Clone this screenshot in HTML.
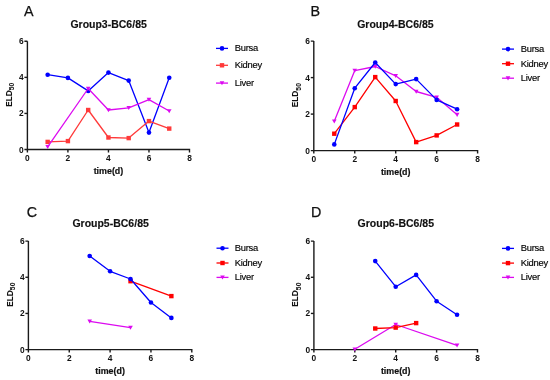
<!DOCTYPE html>
<html><head><meta charset="utf-8"><style>
html,body{margin:0;padding:0;background:#fff;width:550px;height:380px;overflow:hidden}
svg{display:block;will-change:transform}
text{font-family:"Liberation Sans",sans-serif;fill:#111}
.pl{font-size:14.3px;stroke:#111;stroke-width:0.25px}
.ti{font-size:10.5px;font-weight:bold;stroke:#111;stroke-width:0.15px}
.tk{font-size:8.4px;font-weight:bold}
.al{font-size:8.9px;font-weight:bold;stroke:#111;stroke-width:0.2px}
.yl{font-size:8.3px;font-weight:bold;stroke:#111;stroke-width:0.05px}
.sub{font-size:6.8px}
.lg{font-size:9.4px;fill:#000;stroke:#000;stroke-width:0.15px;letter-spacing:-0.25px}
</style></head><body>
<svg width="550" height="380" viewBox="0 0 550 380">
<rect width="550" height="380" fill="#fff"/>
<text x="24" y="15.5" class="pl">A</text>
<text x="108.6" y="27.9" class="ti" text-anchor="middle">Group3-BC6/85</text>
<path d="M27.4 41.3H24.4M27.4 41.3V149.5H189.5V152.5" fill="none" stroke="#1a1a1a" stroke-width="1.4"/>
<path d="M24.4 113.43H27.4" stroke="#1a1a1a" stroke-width="1.4"/>
<path d="M24.4 77.37H27.4" stroke="#1a1a1a" stroke-width="1.4"/>
<path d="M24.4 149.5H27.4M27.4 149.5V152.5" stroke="#1a1a1a" stroke-width="1.4"/>
<path d="M67.92 149.5V152.5" stroke="#1a1a1a" stroke-width="1.4"/>
<path d="M108.45 149.5V152.5" stroke="#1a1a1a" stroke-width="1.4"/>
<path d="M148.97 149.5V152.5" stroke="#1a1a1a" stroke-width="1.4"/>
<text x="23.60" y="152.50" class="tk" text-anchor="end">0</text>
<text x="23.60" y="116.43" class="tk" text-anchor="end">2</text>
<text x="23.60" y="80.37" class="tk" text-anchor="end">4</text>
<text x="23.60" y="44.30" class="tk" text-anchor="end">6</text>
<text x="27.40" y="161.10" class="tk" text-anchor="middle">0</text>
<text x="67.92" y="161.10" class="tk" text-anchor="middle">2</text>
<text x="108.45" y="161.10" class="tk" text-anchor="middle">4</text>
<text x="148.97" y="161.10" class="tk" text-anchor="middle">6</text>
<text x="189.50" y="161.10" class="tk" text-anchor="middle">8</text>
<text x="108.45" y="174.20" class="al" text-anchor="middle">time(d)</text>
<g transform="translate(11.90 106.80) rotate(-90)"><text x="0" y="0" class="yl">ELD<tspan class="sub" dy="2.2">50</tspan></text></g>
<path d="M47.66 74.70 L67.92 77.90 L88.19 90.90 L108.45 72.60 L128.71 80.60 L148.97 132.60 L169.24 77.70" fill="none" stroke="#0000FF" stroke-width="1.3" stroke-linejoin="round"/>
<circle cx="47.66" cy="74.70" r="2.3" fill="#0000FF"/>
<circle cx="67.92" cy="77.90" r="2.3" fill="#0000FF"/>
<circle cx="88.19" cy="90.90" r="2.3" fill="#0000FF"/>
<circle cx="108.45" cy="72.60" r="2.3" fill="#0000FF"/>
<circle cx="128.71" cy="80.60" r="2.3" fill="#0000FF"/>
<circle cx="148.97" cy="132.60" r="2.3" fill="#0000FF"/>
<circle cx="169.24" cy="77.70" r="2.3" fill="#0000FF"/>
<path d="M47.66 141.90 L67.92 141.10 L88.19 110.00 L108.45 137.50 L128.71 138.10 L148.97 121.10 L169.24 128.60" fill="none" stroke="#FF3a3a" stroke-width="1.3" stroke-linejoin="round"/>
<rect x="45.46" y="139.70" width="4.4" height="4.4" fill="#FF3a3a"/>
<rect x="65.72" y="138.90" width="4.4" height="4.4" fill="#FF3a3a"/>
<rect x="85.99" y="107.80" width="4.4" height="4.4" fill="#FF3a3a"/>
<rect x="106.25" y="135.30" width="4.4" height="4.4" fill="#FF3a3a"/>
<rect x="126.51" y="135.90" width="4.4" height="4.4" fill="#FF3a3a"/>
<rect x="146.78" y="118.90" width="4.4" height="4.4" fill="#FF3a3a"/>
<rect x="167.04" y="126.40" width="4.4" height="4.4" fill="#FF3a3a"/>
<path d="M47.66 146.90 L88.19 88.50 L108.45 110.00 L128.71 107.90 L148.97 99.60 L169.24 111.00" fill="none" stroke="#DC0AF0" stroke-width="1.3" stroke-linejoin="round"/>
<path d="M45.36 145.06H49.96L47.66 149.09Z" fill="#DC0AF0"/>
<path d="M85.89 86.66H90.49L88.19 90.69Z" fill="#DC0AF0"/>
<path d="M106.15 108.16H110.75L108.45 112.19Z" fill="#DC0AF0"/>
<path d="M126.41 106.06H131.01L128.71 110.09Z" fill="#DC0AF0"/>
<path d="M146.67 97.76H151.28L148.97 101.78Z" fill="#DC0AF0"/>
<path d="M166.94 109.16H171.54L169.24 113.19Z" fill="#DC0AF0"/>
<path d="M216 48.40H228" stroke="#0000FF" stroke-width="1.3"/>
<circle cx="222.00" cy="48.40" r="2.3" fill="#0000FF"/>
<text x="234.70" y="51.40" class="lg">Bursa</text>
<path d="M216 65.30H228" stroke="#FF3a3a" stroke-width="1.3"/>
<rect x="219.80" y="63.10" width="4.4" height="4.4" fill="#FF3a3a"/>
<text x="234.70" y="68.30" class="lg">Kidney</text>
<path d="M216 83.10H228" stroke="#DC0AF0" stroke-width="1.3"/>
<path d="M219.70 81.26H224.30L222.00 85.28Z" fill="#DC0AF0"/>
<text x="234.70" y="86.10" class="lg">Liver</text>
<text x="310.5" y="15.8" class="pl">B</text>
<text x="395.4" y="27.9" class="ti" text-anchor="middle">Group4-BC6/85</text>
<path d="M313.8 41.1H310.8M313.8 41.1V150.6H477.6V153.6" fill="none" stroke="#1a1a1a" stroke-width="1.4"/>
<path d="M310.8 114.10H313.8" stroke="#1a1a1a" stroke-width="1.4"/>
<path d="M310.8 77.60H313.8" stroke="#1a1a1a" stroke-width="1.4"/>
<path d="M310.8 150.6H313.8M313.8 150.6V153.6" stroke="#1a1a1a" stroke-width="1.4"/>
<path d="M354.75 150.6V153.6" stroke="#1a1a1a" stroke-width="1.4"/>
<path d="M395.70 150.6V153.6" stroke="#1a1a1a" stroke-width="1.4"/>
<path d="M436.65 150.6V153.6" stroke="#1a1a1a" stroke-width="1.4"/>
<text x="310.00" y="153.60" class="tk" text-anchor="end">0</text>
<text x="310.00" y="117.10" class="tk" text-anchor="end">2</text>
<text x="310.00" y="80.60" class="tk" text-anchor="end">4</text>
<text x="310.00" y="44.10" class="tk" text-anchor="end">6</text>
<text x="313.80" y="162.20" class="tk" text-anchor="middle">0</text>
<text x="354.75" y="162.20" class="tk" text-anchor="middle">2</text>
<text x="395.70" y="162.20" class="tk" text-anchor="middle">4</text>
<text x="436.65" y="162.20" class="tk" text-anchor="middle">6</text>
<text x="477.60" y="162.20" class="tk" text-anchor="middle">8</text>
<text x="395.70" y="175.30" class="al" text-anchor="middle">time(d)</text>
<g transform="translate(298.30 107.25) rotate(-90)"><text x="0" y="0" class="yl">ELD<tspan class="sub" dy="2.2">50</tspan></text></g>
<path d="M334.28 121.30 L354.75 70.60 L375.23 66.50 L395.70 75.80 L416.18 91.50 L436.65 97.30 L457.12 114.70" fill="none" stroke="#DC0AF0" stroke-width="1.3" stroke-linejoin="round"/>
<path d="M331.98 119.46H336.58L334.28 123.48Z" fill="#DC0AF0"/>
<path d="M352.45 68.76H357.05L354.75 72.78Z" fill="#DC0AF0"/>
<path d="M372.93 64.66H377.53L375.23 68.69Z" fill="#DC0AF0"/>
<path d="M393.40 73.96H398.00L395.70 77.99Z" fill="#DC0AF0"/>
<path d="M413.88 89.66H418.48L416.18 93.69Z" fill="#DC0AF0"/>
<path d="M434.35 95.46H438.95L436.65 99.49Z" fill="#DC0AF0"/>
<path d="M454.82 112.86H459.43L457.12 116.89Z" fill="#DC0AF0"/>
<path d="M334.28 133.70 L354.75 107.10 L375.23 77.10 L395.70 101.00 L416.18 142.10 L436.65 135.40 L457.12 124.50" fill="none" stroke="#FF0000" stroke-width="1.3" stroke-linejoin="round"/>
<rect x="332.08" y="131.50" width="4.4" height="4.4" fill="#FF0000"/>
<rect x="352.55" y="104.90" width="4.4" height="4.4" fill="#FF0000"/>
<rect x="373.03" y="74.90" width="4.4" height="4.4" fill="#FF0000"/>
<rect x="393.50" y="98.80" width="4.4" height="4.4" fill="#FF0000"/>
<rect x="413.98" y="139.90" width="4.4" height="4.4" fill="#FF0000"/>
<rect x="434.45" y="133.20" width="4.4" height="4.4" fill="#FF0000"/>
<rect x="454.93" y="122.30" width="4.4" height="4.4" fill="#FF0000"/>
<path d="M334.28 144.40 L354.75 88.20 L375.23 62.50 L395.70 84.10 L416.18 79.10 L436.65 99.90 L457.12 109.20" fill="none" stroke="#0000FF" stroke-width="1.3" stroke-linejoin="round"/>
<circle cx="334.28" cy="144.40" r="2.3" fill="#0000FF"/>
<circle cx="354.75" cy="88.20" r="2.3" fill="#0000FF"/>
<circle cx="375.23" cy="62.50" r="2.3" fill="#0000FF"/>
<circle cx="395.70" cy="84.10" r="2.3" fill="#0000FF"/>
<circle cx="416.18" cy="79.10" r="2.3" fill="#0000FF"/>
<circle cx="436.65" cy="99.90" r="2.3" fill="#0000FF"/>
<circle cx="457.12" cy="109.20" r="2.3" fill="#0000FF"/>
<path d="M502 49.10H514" stroke="#0000FF" stroke-width="1.3"/>
<circle cx="508.00" cy="49.10" r="2.3" fill="#0000FF"/>
<text x="520.70" y="52.10" class="lg">Bursa</text>
<path d="M502 63.70H514" stroke="#FF0000" stroke-width="1.3"/>
<rect x="505.80" y="61.50" width="4.4" height="4.4" fill="#FF0000"/>
<text x="520.70" y="66.70" class="lg">Kidney</text>
<path d="M502 78.20H514" stroke="#DC0AF0" stroke-width="1.3"/>
<path d="M505.70 76.36H510.30L508.00 80.39Z" fill="#DC0AF0"/>
<text x="520.70" y="81.20" class="lg">Liver</text>
<text x="26.8" y="216.8" class="pl">C</text>
<text x="110.6" y="227.1" class="ti" text-anchor="middle">Group5-BC6/85</text>
<path d="M28.4 241.1H25.4M28.4 241.1V349.6H191.8V352.6" fill="none" stroke="#1a1a1a" stroke-width="1.4"/>
<path d="M25.4 313.43H28.4" stroke="#1a1a1a" stroke-width="1.4"/>
<path d="M25.4 277.27H28.4" stroke="#1a1a1a" stroke-width="1.4"/>
<path d="M25.4 349.6H28.4M28.4 349.6V352.6" stroke="#1a1a1a" stroke-width="1.4"/>
<path d="M69.25 349.6V352.6" stroke="#1a1a1a" stroke-width="1.4"/>
<path d="M110.10 349.6V352.6" stroke="#1a1a1a" stroke-width="1.4"/>
<path d="M150.95 349.6V352.6" stroke="#1a1a1a" stroke-width="1.4"/>
<text x="24.60" y="352.60" class="tk" text-anchor="end">0</text>
<text x="24.60" y="316.43" class="tk" text-anchor="end">2</text>
<text x="24.60" y="280.27" class="tk" text-anchor="end">4</text>
<text x="24.60" y="244.10" class="tk" text-anchor="end">6</text>
<text x="28.40" y="361.20" class="tk" text-anchor="middle">0</text>
<text x="69.25" y="361.20" class="tk" text-anchor="middle">2</text>
<text x="110.10" y="361.20" class="tk" text-anchor="middle">4</text>
<text x="150.95" y="361.20" class="tk" text-anchor="middle">6</text>
<text x="191.80" y="361.20" class="tk" text-anchor="middle">8</text>
<text x="110.10" y="374.30" class="al" text-anchor="middle">time(d)</text>
<g transform="translate(12.90 306.75) rotate(-90)"><text x="0" y="0" class="yl">ELD<tspan class="sub" dy="2.2">50</tspan></text></g>
<path d="M130.53 281.20 L171.38 296.10" fill="none" stroke="#FF0000" stroke-width="1.3" stroke-linejoin="round"/>
<rect x="128.33" y="279.00" width="4.4" height="4.4" fill="#FF0000"/>
<rect x="169.18" y="293.90" width="4.4" height="4.4" fill="#FF0000"/>
<path d="M89.68 256.00 L110.10 271.30 L130.53 279.00 L150.95 302.50 L171.38 317.90" fill="none" stroke="#0000FF" stroke-width="1.3" stroke-linejoin="round"/>
<circle cx="89.68" cy="256.00" r="2.3" fill="#0000FF"/>
<circle cx="110.10" cy="271.30" r="2.3" fill="#0000FF"/>
<circle cx="130.53" cy="279.00" r="2.3" fill="#0000FF"/>
<circle cx="150.95" cy="302.50" r="2.3" fill="#0000FF"/>
<circle cx="171.38" cy="317.90" r="2.3" fill="#0000FF"/>
<path d="M89.68 321.40 L130.53 327.60" fill="none" stroke="#DC0AF0" stroke-width="1.3" stroke-linejoin="round"/>
<path d="M87.38 319.56H91.98L89.68 323.58Z" fill="#DC0AF0"/>
<path d="M128.22 325.76H132.83L130.53 329.79Z" fill="#DC0AF0"/>
<path d="M216.5 248.20H228.5" stroke="#0000FF" stroke-width="1.3"/>
<circle cx="222.50" cy="248.20" r="2.3" fill="#0000FF"/>
<text x="234.70" y="251.20" class="lg">Bursa</text>
<path d="M216.5 263.00H228.5" stroke="#FF0000" stroke-width="1.3"/>
<rect x="220.30" y="260.80" width="4.4" height="4.4" fill="#FF0000"/>
<text x="234.70" y="266.00" class="lg">Kidney</text>
<path d="M216.5 277.40H228.5" stroke="#DC0AF0" stroke-width="1.3"/>
<path d="M220.20 275.56H224.80L222.50 279.58Z" fill="#DC0AF0"/>
<text x="234.70" y="280.40" class="lg">Liver</text>
<text x="311" y="217.2" class="pl">D</text>
<text x="395.8" y="227.1" class="ti" text-anchor="middle">Group6-BC6/85</text>
<path d="M313.9 241.1H310.9M313.9 241.1V349.6H477.5V352.6" fill="none" stroke="#1a1a1a" stroke-width="1.4"/>
<path d="M310.9 313.43H313.9" stroke="#1a1a1a" stroke-width="1.4"/>
<path d="M310.9 277.27H313.9" stroke="#1a1a1a" stroke-width="1.4"/>
<path d="M310.9 349.6H313.9M313.9 349.6V352.6" stroke="#1a1a1a" stroke-width="1.4"/>
<path d="M354.80 349.6V352.6" stroke="#1a1a1a" stroke-width="1.4"/>
<path d="M395.70 349.6V352.6" stroke="#1a1a1a" stroke-width="1.4"/>
<path d="M436.60 349.6V352.6" stroke="#1a1a1a" stroke-width="1.4"/>
<text x="310.10" y="352.60" class="tk" text-anchor="end">0</text>
<text x="310.10" y="316.43" class="tk" text-anchor="end">2</text>
<text x="310.10" y="280.27" class="tk" text-anchor="end">4</text>
<text x="310.10" y="244.10" class="tk" text-anchor="end">6</text>
<text x="313.90" y="361.20" class="tk" text-anchor="middle">0</text>
<text x="354.80" y="361.20" class="tk" text-anchor="middle">2</text>
<text x="395.70" y="361.20" class="tk" text-anchor="middle">4</text>
<text x="436.60" y="361.20" class="tk" text-anchor="middle">6</text>
<text x="477.50" y="361.20" class="tk" text-anchor="middle">8</text>
<text x="395.70" y="374.30" class="al" text-anchor="middle">time(d)</text>
<g transform="translate(298.40 306.75) rotate(-90)"><text x="0" y="0" class="yl">ELD<tspan class="sub" dy="2.2">50</tspan></text></g>
<path d="M354.80 349.30 L395.70 324.50 L457.05 345.40" fill="none" stroke="#DC0AF0" stroke-width="1.3" stroke-linejoin="round"/>
<path d="M352.50 347.46H357.10L354.80 351.49Z" fill="#DC0AF0"/>
<path d="M393.40 322.66H398.00L395.70 326.69Z" fill="#DC0AF0"/>
<path d="M454.75 343.56H459.35L457.05 347.58Z" fill="#DC0AF0"/>
<path d="M375.25 328.50 L395.70 327.60 L416.15 323.10" fill="none" stroke="#FF0000" stroke-width="1.3" stroke-linejoin="round"/>
<rect x="373.05" y="326.30" width="4.4" height="4.4" fill="#FF0000"/>
<rect x="393.50" y="325.40" width="4.4" height="4.4" fill="#FF0000"/>
<rect x="413.95" y="320.90" width="4.4" height="4.4" fill="#FF0000"/>
<path d="M375.25 261.10 L395.70 286.70 L416.15 274.90 L436.60 301.20 L457.05 314.70" fill="none" stroke="#0000FF" stroke-width="1.3" stroke-linejoin="round"/>
<circle cx="375.25" cy="261.10" r="2.3" fill="#0000FF"/>
<circle cx="395.70" cy="286.70" r="2.3" fill="#0000FF"/>
<circle cx="416.15" cy="274.90" r="2.3" fill="#0000FF"/>
<circle cx="436.60" cy="301.20" r="2.3" fill="#0000FF"/>
<circle cx="457.05" cy="314.70" r="2.3" fill="#0000FF"/>
<path d="M502 248.40H514" stroke="#0000FF" stroke-width="1.3"/>
<circle cx="508.00" cy="248.40" r="2.3" fill="#0000FF"/>
<text x="520.70" y="251.40" class="lg">Bursa</text>
<path d="M502 263.10H514" stroke="#FF0000" stroke-width="1.3"/>
<rect x="505.80" y="260.90" width="4.4" height="4.4" fill="#FF0000"/>
<text x="520.70" y="266.10" class="lg">Kidney</text>
<path d="M502 277.40H514" stroke="#DC0AF0" stroke-width="1.3"/>
<path d="M505.70 275.56H510.30L508.00 279.58Z" fill="#DC0AF0"/>
<text x="520.70" y="280.40" class="lg">Liver</text>
</svg>
</body></html>
